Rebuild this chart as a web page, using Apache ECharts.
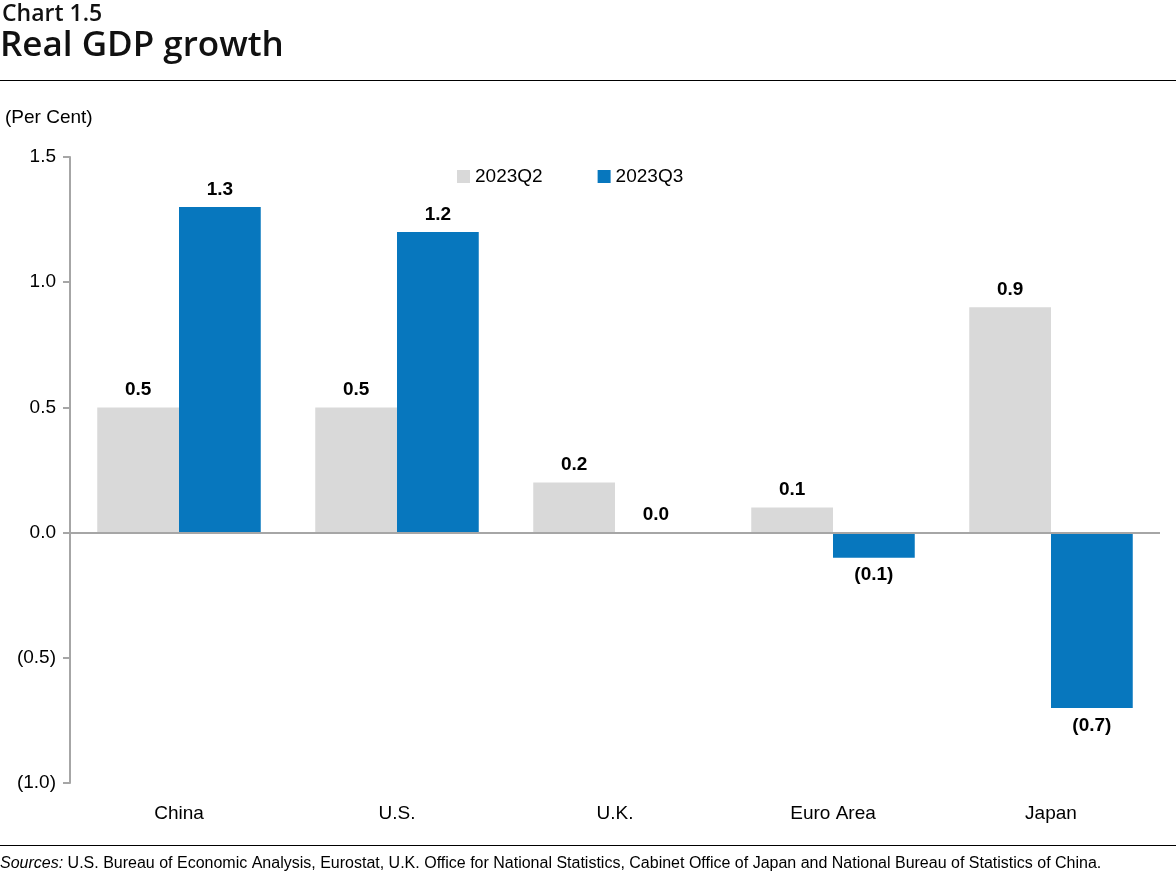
<!DOCTYPE html>
<html>
<head>
<meta charset="utf-8">
<script src="https://cdn.jsdelivr.net/npm/echarts@6/dist/echarts.min.js"></script>
<style>
  html, body { margin: 0; padding: 0; background: #fff; }
  #chart { width: 1176px; height: 888px; }
</style>
</head>
<body>
<div id="chart"></div>
<script>
// 数据
var categories = ['China', 'U.S.', 'U.K.', 'Euro Area', 'Japan'];
var q2Values = [0.5, 0.5, 0.2, 0.1, 0.9];
var q3Values = [1.3, 1.2, 0.0, -0.1, -0.7];
var seriesNames = ['2023Q2', '2023Q3'];

var txtFont = '"Liberation Sans", Arial, sans-serif';

function fmt(v) {
    var s = Math.abs(v).toFixed(1);
    return v < 0 ? '(' + s + ')' : s;
}

function toData(values) {
    return values.map(function (v) {
        return {
            value: v,
            label: { position: v < 0 ? 'bottom' : 'top' }
        };
    });
}

var barLabel = {
    show: true,
    fontFamily: txtFont,
    fontSize: 19,
    fontWeight: 'bold',
    color: '#000',
    distance: 8,
    formatter: function (p) { return fmt(p.value); }
};

var myChart = echarts.init(document.getElementById('chart'));
var option = {
    animation: false,
    graphic: [
        { type: 'text', left: 2, top: 3, style: { text: 'Chart 1.5', font: '600 23px "Open Sans", Lato, sans-serif', fill: '#111' } },
        { type: 'text', left: 0, top: 29, style: { text: 'Real GDP growth', font: '600 35px "Open Sans", Lato, sans-serif', fill: '#111' } },
        { type: 'line', shape: { x1: 0, y1: 80.5, x2: 1176, y2: 80.5 }, style: { stroke: '#000', lineWidth: 1 } },
        { type: 'text', left: 5, top: 108, style: { text: '(Per Cent)', font: '19px ' + txtFont, fill: '#000' } },
        { type: 'line', shape: { x1: 0, y1: 845.5, x2: 1176, y2: 845.5 }, style: { stroke: '#000', lineWidth: 1 } },
        { type: 'text', left: 0, top: 856, style: {
            rich: {
                i: { fontFamily: txtFont, fontSize: 16, fontStyle: 'italic', fill: '#000' },
                n: { fontFamily: txtFont, fontSize: 16, fill: '#000' }
            },
            text: '{i|Sources:}{n| U.S. Bureau of Economic Analysis, Eurostat, U.K. Office for National Statistics, Cabinet Office of Japan and National Bureau of Statistics of China.}'
        } }
    ],
    legend: {
        top: 162,
        left: 452,
        itemGap: 55,
        itemWidth: 13,
        itemHeight: 13,
        icon: 'rect',
        textStyle: { fontFamily: txtFont, fontSize: 19, color: '#000' },
        data: seriesNames
    },
    grid: {
        left: 70,
        right: 16,
        top: 157,
        bottom: 105,
        containLabel: false
    },
    xAxis: {
        type: 'category',
        data: categories,
        position: 'bottom',
        axisLine: { show: false, onZero: false },
        axisTick: { show: false },
        axisLabel: {
            margin: 21,
            fontFamily: txtFont,
            fontSize: 19,
            color: '#000'
        }
    },
    yAxis: {
        type: 'value',
        min: -1.0,
        max: 1.5,
        interval: 0.5,
        axisLine: { show: true, lineStyle: { color: '#a6a6a6', width: 2 } },
        axisTick: { show: true, length: 7, lineStyle: { color: '#a6a6a6', width: 2 } },
        splitLine: { show: false },
        axisLabel: {
            margin: 14,
            fontFamily: txtFont,
            fontSize: 19,
            color: '#000',
            formatter: function (v) { return fmt(v); }
        }
    },
    series: [
        {
            name: seriesNames[0],
            type: 'bar',
            barGap: '0%',
            barCategoryGap: '25%',
            itemStyle: { color: '#d9d9d9' },
            label: barLabel,
            data: toData(q2Values),
            markLine: {
                silent: true,
                symbol: 'none',
                label: { show: false },
                lineStyle: { color: '#a6a6a6', width: 2, type: 'solid' },
                data: [{ yAxis: 0 }]
            }
        },
        {
            name: seriesNames[1],
            type: 'bar',
            barGap: '0%',
            barCategoryGap: '25%',
            itemStyle: { color: '#0777be' },
            label: barLabel,
            data: toData(q3Values)
        }
    ]
};
myChart.setOption(option);
</script>
</body>
</html>
